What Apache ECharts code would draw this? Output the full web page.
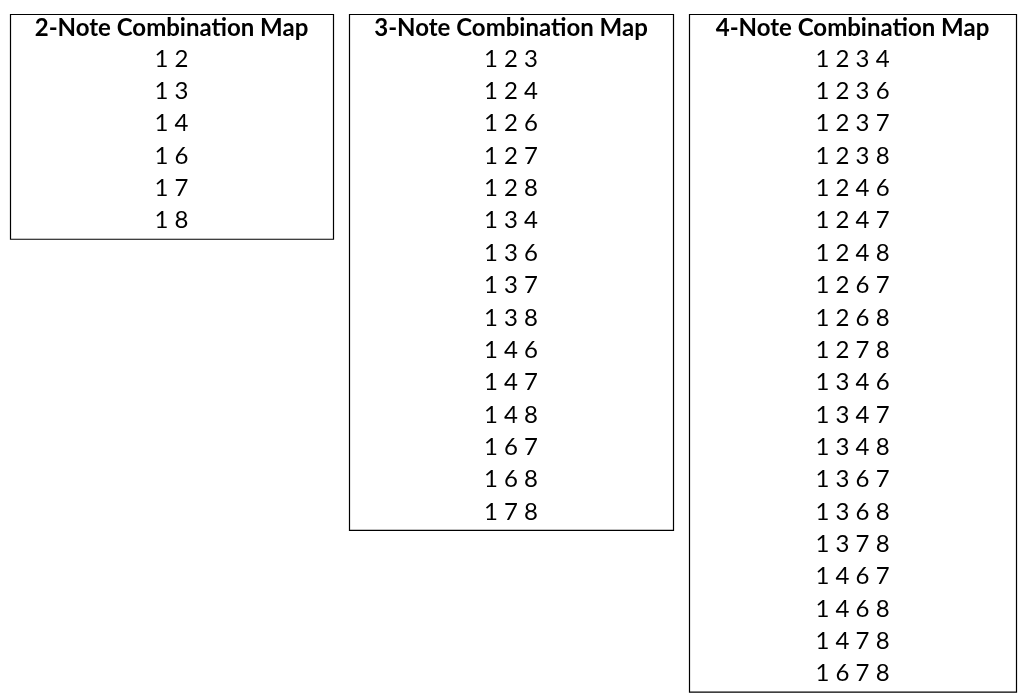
<!DOCTYPE html>
<html><head><meta charset="utf-8">
<script src="https://cdn.jsdelivr.net/npm/echarts@6/dist/echarts.min.js"></script>
<style>html,body{margin:0;padding:0;background:#fff}#c{width:1024px;height:698px}</style>
</head><body><div id="c"></div>
<script>
const titles = ["2-Note Combination Map","3-Note Combination Map","4-Note Combination Map"];
const combos2 = ["12","13","14","16","17","18"];
const combos3 = ["123","124","126","127","128","134","136","137","138","146","147","148","167","168","178"];
const combos4 = ["1234","1236","1237","1238","1246","1247","1248","1267","1268","1278","1346","1347","1348","1367","1368","1378","1467","1468","1478","1678"];
const lists = [combos2, combos3, combos4];
const boxLeft = [10, 349, 689], boxRight = [333, 673, 1016];
const boxTop = 14, rowH = 32.35, firstRow = 59;
const els = [];
lists.forEach((list, i) => {
  const cx = (boxLeft[i] + boxRight[i]) / 2;
  const h = firstRow - boxTop + (list.length - 1) * rowH + 18;
  els.push({type:'rect', shape:{x:boxLeft[i]+0.5, y:boxTop+0.5, width:boxRight[i]-boxLeft[i], height:h},
    style:{fill:'#fff', stroke:'#000', lineWidth:1.2}});
  els.push({type:'text', x:cx, y:28, style:{text:titles[i], font:'bold 24px Lato', fill:'#000', align:'center', verticalAlign:'middle'}});
  list.forEach((s, j) => {
    els.push({type:'text', x:cx, y:firstRow + j*rowH, style:{text:s.split('').join(' '), font:'24px Lato', fill:'#000', align:'center', verticalAlign:'middle'}});
  });
});
const chart = echarts.init(document.getElementById('c'), null, {renderer:'canvas'});
chart.setOption({animation:false, backgroundColor:'#fff', graphic:{elements:els}});
</script></body></html>
